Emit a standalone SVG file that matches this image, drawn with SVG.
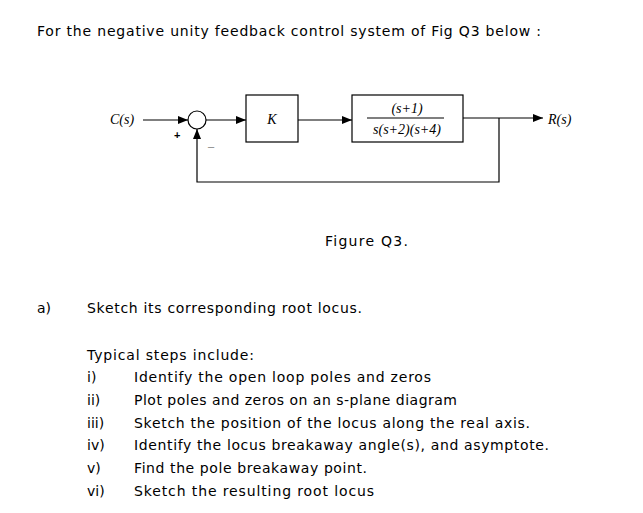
<svg xmlns="http://www.w3.org/2000/svg" width="643" height="513" viewBox="0 0 643 513">
<style>
.t{font-family:"DejaVu Sans",sans-serif;font-size:14px;fill:#000}
.m{font-family:"Liberation Serif",serif;font-style:italic;font-size:14px;fill:#000}
.l{stroke:#000;stroke-width:1.2;fill:none}
</style>
<defs><marker id="a" markerWidth="10" markerHeight="8" refX="10" refY="4" orient="auto" markerUnits="userSpaceOnUse"><path d="M0,0L10,4L0,8z" fill="#000"/></marker></defs>
<rect width="643" height="513" fill="#fff"/>
<text class="t" x="37" y="36" textLength="504">For the negative unity feedback control system of Fig Q3 below :</text>
<g id="input"><text class="m" x="110" y="124">C(s)</text></g>
<g id="sum"><circle class="l" cx="197" cy="120" r="9"/><text x="174" y="139" font-family="Liberation Sans,sans-serif" font-size="11" font-weight="bold">+</text><text x="208" y="146" font-family="Liberation Sans,sans-serif" font-size="11" font-weight="bold">_</text></g>
<g id="k"><rect class="l" x="246" y="95" width="52" height="47"/><text class="m" x="272" y="124" text-anchor="middle">K</text></g>
<g id="g"><rect class="l" x="352" y="95" width="111" height="47"/><text class="m" x="407" y="113" text-anchor="middle">(s+1)</text><line class="l" x1="367" y1="118" x2="444" y2="118"/><text class="m" x="407" y="134" text-anchor="middle">s(s+2)(s+4)</text></g>
<g id="output"><text class="m" x="548" y="124">R(s)</text></g>
<g id="connectors">
<line class="l" x1="143" y1="120" x2="188" y2="120" marker-end="url(#a)"/>
<line class="l" x1="206" y1="120" x2="246" y2="120" marker-end="url(#a)"/>
<line class="l" x1="298" y1="120" x2="352" y2="120" marker-end="url(#a)"/>
<line class="l" x1="463" y1="118" x2="543" y2="118" marker-end="url(#a)"/>
<polyline class="l" points="499,118 499,182 197,182 197,129" marker-end="url(#a)"/>
</g>
<text class="t" x="325" y="246" textLength="83">Figure Q3.</text>
<text class="t" x="37" y="313">a)</text>
<text class="t" x="87" y="313" textLength="275">Sketch its corresponding root locus.</text>
<text class="t" x="87" y="360" textLength="167">Typical steps include:</text>
<g class="t">
<text class="t" x="87" y="382">i)</text><text class="t" x="134" y="382" textLength="297">Identify the open loop poles and zeros</text>
<text class="t" x="87" y="405">ii)</text><text class="t" x="134" y="405" textLength="323">Plot poles and zeros on an s-plane diagram</text>
<text class="t" x="87" y="428">iii)</text><text class="t" x="134" y="428" textLength="396">Sketch the position of the locus along the real axis.</text>
<text class="t" x="87" y="450">iv)</text><text class="t" x="134" y="450" textLength="415">Identify the locus breakaway angle(s), and asymptote.</text>
<text class="t" x="87" y="473">v)</text><text class="t" x="134" y="473" textLength="233">Find the pole breakaway point.</text>
<text class="t" x="87" y="496">vi)</text><text class="t" x="134" y="496" textLength="240">Sketch the resulting root locus</text>
</g>
</svg>
